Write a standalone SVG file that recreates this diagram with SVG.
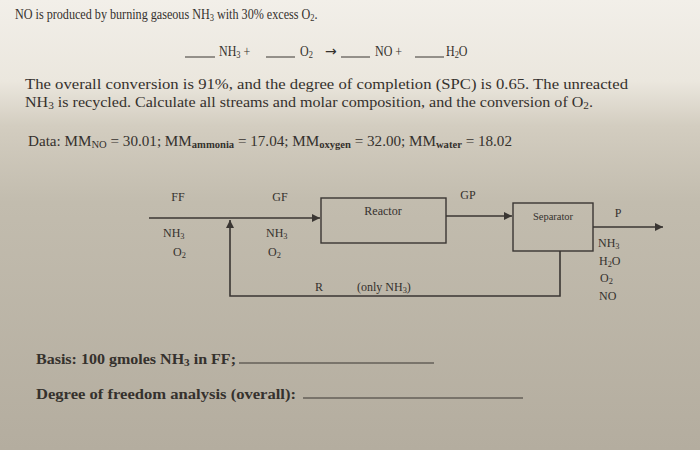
<svg xmlns="http://www.w3.org/2000/svg" width="700" height="450" viewBox="0 0 700 450">
<defs>
<linearGradient id="bg" x1="0" y1="0" x2="0" y2="1">
<stop offset="0" stop-color="#f2efe9"/>
<stop offset="0.18" stop-color="#ebe7de"/>
<stop offset="0.28" stop-color="#d3cdc0"/>
<stop offset="0.45" stop-color="#c2bcae"/>
<stop offset="1" stop-color="#b4ad9f"/>
</linearGradient>
<marker id="arr" viewBox="0 0 10 10" refX="10" refY="5" markerWidth="8" markerHeight="8" markerUnits="userSpaceOnUse" orient="auto">
<path d="M0,0 L10,5 L0,10 z" fill="#3a3633"/>
</marker>
<style>
text{font-family:"Liberation Serif","DejaVu Serif",serif;fill:#35312d}
.t{font-size:15px}
.lbl{font-size:12px}
.eq{font-size:15px}
.b{font-size:14px;font-weight:bold}
.ln{stroke:#3a3633;stroke-width:1.6;fill:none}
.box{stroke:#3a3633;stroke-width:1.4;fill:none}
.ul{stroke:#3a3633;stroke-width:1}
.s{font-size:70%}
</style>
</defs>
<rect width="700" height="450" fill="url(#bg)"/>

<text class="t" font-size="17" transform="translate(15,19) scale(0.81,1)" x="0" y="0">NO is produced by burning gaseous NH<tspan class="s" dy="2">3</tspan><tspan dy="-2"> with 30% excess O</tspan><tspan class="s" dy="2">2</tspan><tspan dy="-2">.</tspan></text>

<g id="equation">
<line class="ul" x1="185" y1="57" x2="215" y2="57"/>
<text class="eq" transform="translate(219,56) scale(0.8,1)">NH<tspan class="s" dy="2">3</tspan><tspan dy="-2">  +</tspan></text>
<line class="ul" x1="266" y1="57" x2="295" y2="57"/>
<text class="eq" transform="translate(300,56) scale(0.8,1)">O<tspan class="s" dy="2">2</tspan></text>
<text x="325" y="56" font-size="14" style="font-family:'DejaVu Sans',sans-serif">→</text>
<line class="ul" x1="341" y1="57" x2="370" y2="57"/>
<text class="eq" transform="translate(375,56) scale(0.8,1)">NO  +</text>
<line class="ul" x1="415" y1="57" x2="444" y2="57"/>
<text class="eq" transform="translate(446,56) scale(0.8,1)">H<tspan class="s" dy="2">2</tspan><tspan dy="-2">O</tspan></text>
</g>

<text class="t" x="25" y="89" textLength="603" lengthAdjust="spacingAndGlyphs">The overall conversion is 91%, and the degree of completion (SPC) is 0.65.  The unreacted</text>
<text class="t" x="25" y="107" textLength="568" lengthAdjust="spacingAndGlyphs">NH<tspan class="s" dy="2">3</tspan><tspan dy="-2"> is recycled.  Calculate all streams and molar composition, and the conversion of O</tspan><tspan class="s" dy="2">2</tspan><tspan dy="-2">.</tspan></text>

<text class="t" x="28" y="146" textLength="484" lengthAdjust="spacingAndGlyphs">Data:  MM<tspan class="s" dy="2">NO</tspan><tspan dy="-2"> = 30.01; MM</tspan><tspan class="s" dy="2" font-weight="bold">ammonia</tspan><tspan dy="-2"> = 17.04; MM</tspan><tspan class="s" dy="2" font-weight="bold">oxygen</tspan><tspan dy="-2"> = 32.00; MM</tspan><tspan class="s" dy="2" font-weight="bold">water</tspan><tspan dy="-2"> = 18.02</tspan></text>

<g id="connectors">
<line class="ln" x1="149" y1="218" x2="320" y2="218" marker-end="url(#arr)"/>
<polyline class="ln" points="560,251 560,296 230,296 230,220" marker-end="url(#arr)"/>
<line class="ln" x1="446" y1="216" x2="512" y2="216" marker-end="url(#arr)"/>
<line class="ln" x1="593" y1="227" x2="663" y2="227" marker-end="url(#arr)"/>
</g>

<g id="reactor">
<rect class="box" x="321" y="198" width="125" height="45"/>
<text x="383" y="215" text-anchor="middle" font-size="12">Reactor</text>
</g>

<g id="separator">
<rect class="box" x="513" y="203" width="80" height="48"/>
<text x="553" y="220" text-anchor="middle" font-size="10.5">Separator</text>
</g>

<g id="stream-labels">
<text class="lbl" x="178" y="201" text-anchor="middle">FF</text>
<text class="lbl" x="280" y="201" text-anchor="middle">GF</text>
<text class="lbl" x="468" y="199" text-anchor="middle">GP</text>
<text class="lbl" x="618" y="217" text-anchor="middle">P</text>
<text class="lbl" x="319" y="291" text-anchor="middle">R</text>
<text class="lbl" x="357" y="291">(only NH<tspan class="s" dy="2">3</tspan><tspan dy="-2">)</tspan></text>
<text class="lbl" x="163" y="237">NH<tspan class="s" dy="2">3</tspan></text>
<text class="lbl" x="173" y="256">O<tspan class="s" dy="2">2</tspan></text>
<text class="lbl" x="266" y="237">NH<tspan class="s" dy="2">3</tspan></text>
<text class="lbl" x="268" y="256">O<tspan class="s" dy="2">2</tspan></text>
<text class="lbl" x="598" y="247">NH<tspan class="s" dy="2">3</tspan></text>
<text class="lbl" x="599" y="265">H<tspan class="s" dy="2">2</tspan><tspan dy="-2">O</tspan></text>
<text class="lbl" x="600" y="282">O<tspan class="s" dy="2">2</tspan></text>
<text class="lbl" x="599" y="300">NO</text>
</g>

<text class="b" x="36" y="364" textLength="200" lengthAdjust="spacingAndGlyphs">Basis: 100 gmoles NH<tspan class="s" dy="2">3</tspan><tspan dy="-2"> in FF;</tspan></text>
<line class="ul" x1="239" y1="363" x2="434" y2="363"/>
<text class="b" x="36" y="399" textLength="260" lengthAdjust="spacingAndGlyphs">Degree of freedom analysis (overall):</text>
<line class="ul" x1="303" y1="398" x2="523" y2="398"/>
</svg>
